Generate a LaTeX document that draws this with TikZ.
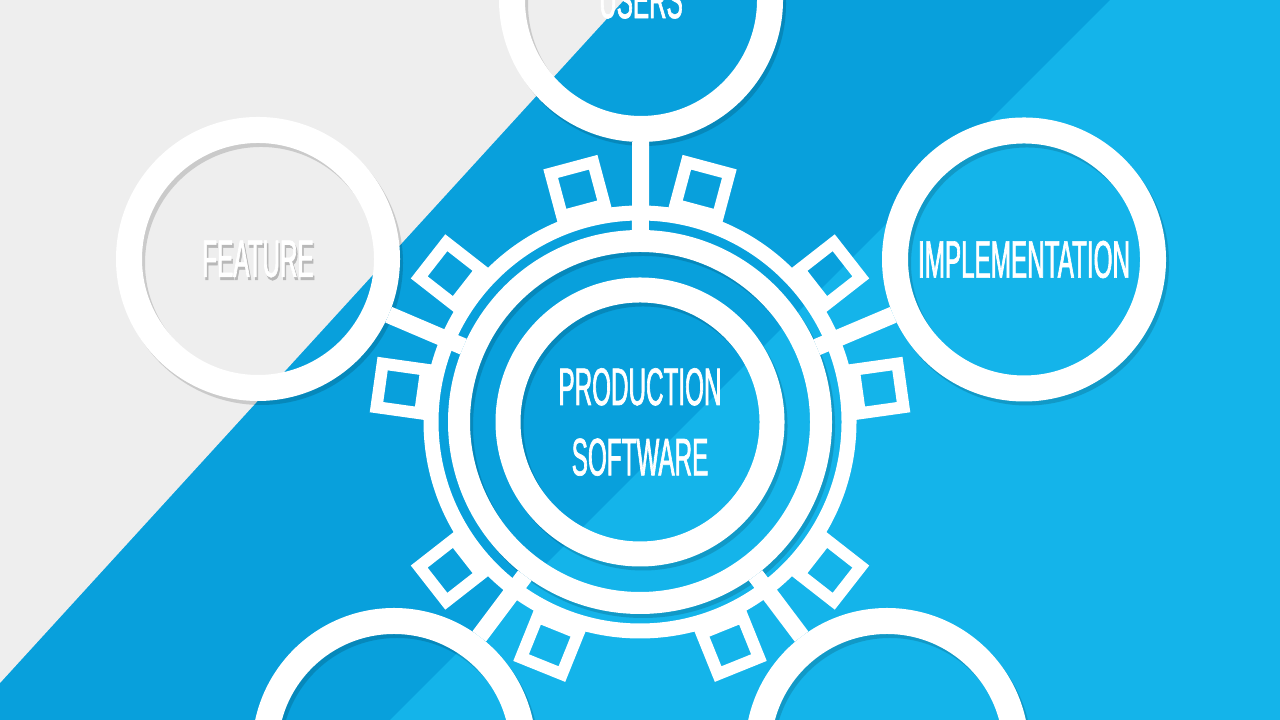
\documentclass[tikz,border=0pt]{standalone}
\usepackage{fontspec}
\newfontfamily\labelfont[FakeStretch=0.46,FakeBold=1.2]{Liberation Sans}
\definecolor{bgblue}{RGB}{8,160,220}
\definecolor{bglight}{RGB}{20,180,234}
\definecolor{bggrey}{RGB}{238,238,238}
\newcommand{\drawteeth}[2]{
	\pgfmathsetmacro{\spoke}{#1}
	\foreach \s in {1,2} {
		\pgfmathsetmacro{\a}{\spoke+30*\s-45}
		\node[tooth, rotate=\a] (#2-\s) at ([shift={(\a:2.41)}]hub) {};
	}
}

\begin{document}
\begin{tikzpicture}[
	castshadow/.style={preaction={draw=black, opacity=0.15, transform canvas={xshift=0.03cm, yshift=-0.04cm}}},
	label/.style={text=white, font=\labelfont\fontsize{15}{20}\selectfont, align=center},
	sat/.style={circle, draw=white, line width=0.26cm, minimum size=2.58cm, inner sep=0pt, castshadow, label},
	spoke/.style={draw=white, line width=0.17cm},
	tooth/.style={rectangle, draw=white, line width=0.12cm, minimum size=0.44cm, inner sep=0pt}
]
	\useasboundingbox (0,0) rectangle (12.8,7.2);
	\clip (0,0) rectangle (12.8,7.2);
	\fill[bgblue] (0,0) rectangle (12.8,7.2);
	\fill[bglight] (3.9,0) -- (11.1,7.2) -- (12.8,7.2) -- (12.8,0) -- cycle;
	\fill[bggrey] (0,0.37) -- (6.24,7.2) -- (0,7.2) -- cycle;

	\node[label, text=black!28] (featureshade) at (2.595,4.58) {FEATURE};
	\node[sat] (users) at (6.41,7.20) {USERS};
	\node[sat] (impl) at (10.24,4.605) {IMPLEMENTATION};
	\node[sat] (feature) at (2.58,4.61) {FEATURE};
	\node[sat] (lowleft) at (3.94,-0.30) {};
	\node[sat] (lowright) at (8.87,-0.30) {};

	\node[circle, draw=white, line width=0.22cm, minimum size=3.62cm, inner sep=0pt, castshadow] (hub) at (6.40,2.98) {};
	\node[circle, draw=white, line width=0.25cm, minimum size=2.64cm, inner sep=0pt, castshadow, label] (core) at (hub) {PRODUCTION\\SOFTWARE};
	\draw[white, line width=0.15cm] (hub.center) circle (2.09);

	\foreach \sat/\ang in {users/90, impl/23, feature/157, lowleft/233, lowright/307} {
		\draw[spoke] (hub) -- (\sat);
		\drawteeth{\ang}{\sat}
	}
\end{tikzpicture}
\end{document}
